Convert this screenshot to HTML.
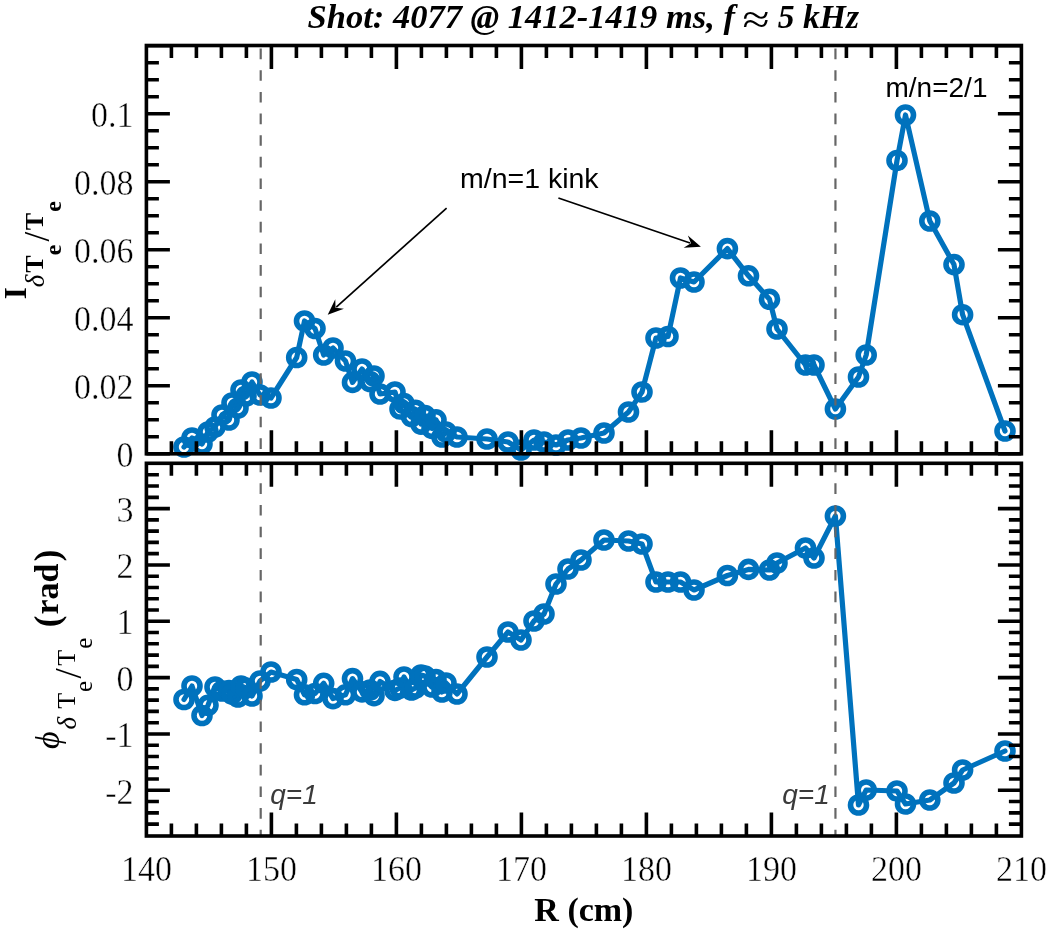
<!DOCTYPE html>
<html><head><meta charset="utf-8"><title>Shot 4077</title>
<style>html,body{margin:0;padding:0;background:#fff;}svg{display:block;}</style>
</head><body>
<svg width="1050" height="934" viewBox="0 0 1050 934">
<defs><filter id="soft" x="0" y="0" width="100%" height="100%" filterUnits="userSpaceOnUse"><feGaussianBlur stdDeviation="0.45"/></filter></defs>
<rect width="1050" height="934" fill="#fff"/>
<g filter="url(#soft)">
<path d="M184 447 L192 438 L202 444 L208 432 L215 427 L222 415 L229 420 L232 403 L238 408 L241 390 L246 396 L252 382 L260 395 L271 398 L296.7 357.5 L304.5 321 L315 328.5 L323.7 355 L333 348 L345.5 361 L352.5 382.4 L362 369 L370 381.5 L374 376 L380 394 L395 392 L400 409 L404 403.5 L411.5 416.6 L415.5 410.2 L421 424.1 L425 415.5 L432 428.4 L436 419.8 L442 437 L446 432 L457 437 L487 439 L508 442 L521 450 L534 440 L544 442 L556 445 L568 440 L581 438 L604 433 L628.5 412 L642 392 L656 338 L668 336.5 L680.5 278 L694 282 L727.4 248.6 L748.5 275.8 L769.5 299.3 L777 329 L805.5 365 L814 365 L835.4 409 L858.5 377 L866.2 355 L897 160.5 L905.5 115 L929.8 221 L954 264.6 L962.6 314.7 L1005 431" stroke="#0072BD" stroke-width="5.2" fill="none" stroke-linejoin="round" stroke-linecap="round"/>
<g fill="none" stroke="#0072BD" stroke-width="5.6"><circle cx="184" cy="447" r="8"/><circle cx="192" cy="438" r="8"/><circle cx="202" cy="444" r="8"/><circle cx="208" cy="432" r="8"/><circle cx="215" cy="427" r="8"/><circle cx="222" cy="415" r="8"/><circle cx="229" cy="420" r="8"/><circle cx="232" cy="403" r="8"/><circle cx="238" cy="408" r="8"/><circle cx="241" cy="390" r="8"/><circle cx="246" cy="396" r="8"/><circle cx="252" cy="382" r="8"/><circle cx="260" cy="395" r="8"/><circle cx="271" cy="398" r="8"/><circle cx="296.7" cy="357.5" r="8"/><circle cx="304.5" cy="321" r="8"/><circle cx="315" cy="328.5" r="8"/><circle cx="323.7" cy="355" r="8"/><circle cx="333" cy="348" r="8"/><circle cx="345.5" cy="361" r="8"/><circle cx="352.5" cy="382.4" r="8"/><circle cx="362" cy="369" r="8"/><circle cx="370" cy="381.5" r="8"/><circle cx="374" cy="376" r="8"/><circle cx="380" cy="394" r="8"/><circle cx="395" cy="392" r="8"/><circle cx="400" cy="409" r="8"/><circle cx="404" cy="403.5" r="8"/><circle cx="411.5" cy="416.6" r="8"/><circle cx="415.5" cy="410.2" r="8"/><circle cx="421" cy="424.1" r="8"/><circle cx="425" cy="415.5" r="8"/><circle cx="432" cy="428.4" r="8"/><circle cx="436" cy="419.8" r="8"/><circle cx="442" cy="437" r="8"/><circle cx="446" cy="432" r="8"/><circle cx="457" cy="437" r="8"/><circle cx="487" cy="439" r="8"/><circle cx="508" cy="442" r="8"/><circle cx="521" cy="450" r="8"/><circle cx="534" cy="440" r="8"/><circle cx="544" cy="442" r="8"/><circle cx="556" cy="445" r="8"/><circle cx="568" cy="440" r="8"/><circle cx="581" cy="438" r="8"/><circle cx="604" cy="433" r="8"/><circle cx="628.5" cy="412" r="8"/><circle cx="642" cy="392" r="8"/><circle cx="656" cy="338" r="8"/><circle cx="668" cy="336.5" r="8"/><circle cx="680.5" cy="278" r="8"/><circle cx="694" cy="282" r="8"/><circle cx="727.4" cy="248.6" r="8"/><circle cx="748.5" cy="275.8" r="8"/><circle cx="769.5" cy="299.3" r="8"/><circle cx="777" cy="329" r="8"/><circle cx="805.5" cy="365" r="8"/><circle cx="814" cy="365" r="8"/><circle cx="835.4" cy="409" r="8"/><circle cx="858.5" cy="377" r="8"/><circle cx="866.2" cy="355" r="8"/><circle cx="897" cy="160.5" r="8"/><circle cx="905.5" cy="115" r="8"/><circle cx="929.8" cy="221" r="8"/><circle cx="954" cy="264.6" r="8"/><circle cx="962.6" cy="314.7" r="8"/><circle cx="1005" cy="431" r="8"/></g>
<path d="M184 699.5 L192 686 L202 715.5 L208 705.3 L215 687 L222 691 L229 690.5 L232 694 L238 697 L241 686 L246 688 L252 696 L260 681 L271 672 L296.7 679.5 L304.5 694.8 L315 693.5 L323.7 683.3 L333 698.6 L345.5 694.8 L352.5 678.6 L362 691.9 L370 690 L374 695.7 L380 681.4 L395 690.4 L400 688 L404 677 L411.5 690 L415.5 688 L421 675 L425 676 L432 687 L436 679.5 L442 692 L446 683 L457 694 L487 657 L508 632 L521 640 L534 621 L544 614 L556 584 L568 569 L581 560 L604 540 L628.5 541 L642 544 L656 582 L668 582 L680.5 582 L694 590 L727.4 575.5 L748.5 569.4 L769.5 570 L777 563 L805.5 548 L814 558 L835.4 516 L858.5 805 L866.2 790 L897 791 L905.5 804 L929.8 800 L954 783 L962.6 770 L1005 751" stroke="#0072BD" stroke-width="5.2" fill="none" stroke-linejoin="round" stroke-linecap="round"/>
<g fill="none" stroke="#0072BD" stroke-width="5.6"><circle cx="184" cy="699.5" r="8"/><circle cx="192" cy="686" r="8"/><circle cx="202" cy="715.5" r="8"/><circle cx="208" cy="705.3" r="8"/><circle cx="215" cy="687" r="8"/><circle cx="222" cy="691" r="8"/><circle cx="229" cy="690.5" r="8"/><circle cx="232" cy="694" r="8"/><circle cx="238" cy="697" r="8"/><circle cx="241" cy="686" r="8"/><circle cx="246" cy="688" r="8"/><circle cx="252" cy="696" r="8"/><circle cx="260" cy="681" r="8"/><circle cx="271" cy="672" r="8"/><circle cx="296.7" cy="679.5" r="8"/><circle cx="304.5" cy="694.8" r="8"/><circle cx="315" cy="693.5" r="8"/><circle cx="323.7" cy="683.3" r="8"/><circle cx="333" cy="698.6" r="8"/><circle cx="345.5" cy="694.8" r="8"/><circle cx="352.5" cy="678.6" r="8"/><circle cx="362" cy="691.9" r="8"/><circle cx="370" cy="690" r="8"/><circle cx="374" cy="695.7" r="8"/><circle cx="380" cy="681.4" r="8"/><circle cx="395" cy="690.4" r="8"/><circle cx="400" cy="688" r="8"/><circle cx="404" cy="677" r="8"/><circle cx="411.5" cy="690" r="8"/><circle cx="415.5" cy="688" r="8"/><circle cx="421" cy="675" r="8"/><circle cx="425" cy="676" r="8"/><circle cx="432" cy="687" r="8"/><circle cx="436" cy="679.5" r="8"/><circle cx="442" cy="692" r="8"/><circle cx="446" cy="683" r="8"/><circle cx="457" cy="694" r="8"/><circle cx="487" cy="657" r="8"/><circle cx="508" cy="632" r="8"/><circle cx="521" cy="640" r="8"/><circle cx="534" cy="621" r="8"/><circle cx="544" cy="614" r="8"/><circle cx="556" cy="584" r="8"/><circle cx="568" cy="569" r="8"/><circle cx="581" cy="560" r="8"/><circle cx="604" cy="540" r="8"/><circle cx="628.5" cy="541" r="8"/><circle cx="642" cy="544" r="8"/><circle cx="656" cy="582" r="8"/><circle cx="668" cy="582" r="8"/><circle cx="680.5" cy="582" r="8"/><circle cx="694" cy="590" r="8"/><circle cx="727.4" cy="575.5" r="8"/><circle cx="748.5" cy="569.4" r="8"/><circle cx="769.5" cy="570" r="8"/><circle cx="777" cy="563" r="8"/><circle cx="805.5" cy="548" r="8"/><circle cx="814" cy="558" r="8"/><circle cx="835.4" cy="516" r="8"/><circle cx="858.5" cy="805" r="8"/><circle cx="866.2" cy="790" r="8"/><circle cx="897" cy="791" r="8"/><circle cx="905.5" cy="804" r="8"/><circle cx="929.8" cy="800" r="8"/><circle cx="954" cy="783" r="8"/><circle cx="962.6" cy="770" r="8"/><circle cx="1005" cy="751" r="8"/></g>
<line x1="260.7" y1="45.5" x2="260.7" y2="453.8" stroke="#666" stroke-width="2.2" stroke-dasharray="10.6 11.05" stroke-dashoffset="18.55"/>
<line x1="260.7" y1="463.3" x2="260.7" y2="836" stroke="#666" stroke-width="2.2" stroke-dasharray="10.6 11.05" stroke-dashoffset="1.6"/>
<line x1="835.45" y1="45.5" x2="835.45" y2="453.8" stroke="#666" stroke-width="2.2" stroke-dasharray="10.6 11.05" stroke-dashoffset="18.55"/>
<line x1="835.45" y1="463.3" x2="835.45" y2="836" stroke="#666" stroke-width="2.2" stroke-dasharray="10.6 11.05" stroke-dashoffset="1.6"/>
<path d="M171.4 453.8V441.3M171.4 45.5V58M196.4 453.8V441.3M196.4 45.5V58M221.4 453.8V441.3M221.4 45.5V58M246.4 453.8V441.3M246.4 45.5V58M271.4 453.8V430.3M271.4 45.5V69M296.4 453.8V441.3M296.4 45.5V58M321.4 453.8V441.3M321.4 45.5V58M346.4 453.8V441.3M346.4 45.5V58M371.4 453.8V441.3M371.4 45.5V58M396.4 453.8V430.3M396.4 45.5V69M421.4 453.8V441.3M421.4 45.5V58M446.4 453.8V441.3M446.4 45.5V58M471.4 453.8V441.3M471.4 45.5V58M496.4 453.8V441.3M496.4 45.5V58M521.4 453.8V430.3M521.4 45.5V69M546.4 453.8V441.3M546.4 45.5V58M571.4 453.8V441.3M571.4 45.5V58M596.4 453.8V441.3M596.4 45.5V58M621.4 453.8V441.3M621.4 45.5V58M646.4 453.8V430.3M646.4 45.5V69M671.4 453.8V441.3M671.4 45.5V58M696.4 453.8V441.3M696.4 45.5V58M721.4 453.8V441.3M721.4 45.5V58M746.4 453.8V441.3M746.4 45.5V58M771.4 453.8V430.3M771.4 45.5V69M796.4 453.8V441.3M796.4 45.5V58M821.4 453.8V441.3M821.4 45.5V58M846.4 453.8V441.3M846.4 45.5V58M871.4 453.8V441.3M871.4 45.5V58M896.4 453.8V430.3M896.4 45.5V69M921.4 453.8V441.3M921.4 45.5V58M946.4 453.8V441.3M946.4 45.5V58M971.4 453.8V441.3M971.4 45.5V58M996.4 453.8V441.3M996.4 45.5V58M146.4 453.8H169.9M1021.4 453.8H997.9M146.4 385.8H169.9M1021.4 385.8H997.9M146.4 317.8H169.9M1021.4 317.8H997.9M146.4 249.8H169.9M1021.4 249.8H997.9M146.4 181.8H169.9M1021.4 181.8H997.9M146.4 113.8H169.9M1021.4 113.8H997.9M146.4 45.8H169.9M1021.4 45.8H997.9M146.4 436.8H158.9M1021.4 436.8H1008.9M146.4 419.8H158.9M1021.4 419.8H1008.9M146.4 402.8H158.9M1021.4 402.8H1008.9M146.4 368.8H158.9M1021.4 368.8H1008.9M146.4 351.8H158.9M1021.4 351.8H1008.9M146.4 334.8H158.9M1021.4 334.8H1008.9M146.4 300.8H158.9M1021.4 300.8H1008.9M146.4 283.8H158.9M1021.4 283.8H1008.9M146.4 266.8H158.9M1021.4 266.8H1008.9M146.4 232.8H158.9M1021.4 232.8H1008.9M146.4 215.8H158.9M1021.4 215.8H1008.9M146.4 198.8H158.9M1021.4 198.8H1008.9M146.4 164.8H158.9M1021.4 164.8H1008.9M146.4 147.8H158.9M1021.4 147.8H1008.9M146.4 130.8H158.9M1021.4 130.8H1008.9M146.4 96.8H158.9M1021.4 96.8H1008.9M146.4 79.8H158.9M1021.4 79.8H1008.9M146.4 62.8H158.9M1021.4 62.8H1008.9" stroke="#000" stroke-width="3.6" fill="none"/>
<rect x="146.4" y="45.5" width="875" height="408.3" fill="none" stroke="#000" stroke-width="3.6"/>
<path d="M171.4 836V823.5M171.4 463.3V475.8M196.4 836V823.5M196.4 463.3V475.8M221.4 836V823.5M221.4 463.3V475.8M246.4 836V823.5M246.4 463.3V475.8M271.4 836V812.5M271.4 463.3V486.8M296.4 836V823.5M296.4 463.3V475.8M321.4 836V823.5M321.4 463.3V475.8M346.4 836V823.5M346.4 463.3V475.8M371.4 836V823.5M371.4 463.3V475.8M396.4 836V812.5M396.4 463.3V486.8M421.4 836V823.5M421.4 463.3V475.8M446.4 836V823.5M446.4 463.3V475.8M471.4 836V823.5M471.4 463.3V475.8M496.4 836V823.5M496.4 463.3V475.8M521.4 836V812.5M521.4 463.3V486.8M546.4 836V823.5M546.4 463.3V475.8M571.4 836V823.5M571.4 463.3V475.8M596.4 836V823.5M596.4 463.3V475.8M621.4 836V823.5M621.4 463.3V475.8M646.4 836V812.5M646.4 463.3V486.8M671.4 836V823.5M671.4 463.3V475.8M696.4 836V823.5M696.4 463.3V475.8M721.4 836V823.5M721.4 463.3V475.8M746.4 836V823.5M746.4 463.3V475.8M771.4 836V812.5M771.4 463.3V486.8M796.4 836V823.5M796.4 463.3V475.8M821.4 836V823.5M821.4 463.3V475.8M846.4 836V823.5M846.4 463.3V475.8M871.4 836V823.5M871.4 463.3V475.8M896.4 836V812.5M896.4 463.3V486.8M921.4 836V823.5M921.4 463.3V475.8M946.4 836V823.5M946.4 463.3V475.8M971.4 836V823.5M971.4 463.3V475.8M996.4 836V823.5M996.4 463.3V475.8M146.4 790.3H169.9M1021.4 790.3H997.9M146.4 733.96H169.9M1021.4 733.96H997.9M146.4 677.62H169.9M1021.4 677.62H997.9M146.4 621.28H169.9M1021.4 621.28H997.9M146.4 564.94H169.9M1021.4 564.94H997.9M146.4 508.6H169.9M1021.4 508.6H997.9M146.4 824.1H158.9M1021.4 824.1H1008.9M146.4 812.84H158.9M1021.4 812.84H1008.9M146.4 801.57H158.9M1021.4 801.57H1008.9M146.4 779.03H158.9M1021.4 779.03H1008.9M146.4 767.76H158.9M1021.4 767.76H1008.9M146.4 756.5H158.9M1021.4 756.5H1008.9M146.4 745.23H158.9M1021.4 745.23H1008.9M146.4 722.69H158.9M1021.4 722.69H1008.9M146.4 711.42H158.9M1021.4 711.42H1008.9M146.4 700.16H158.9M1021.4 700.16H1008.9M146.4 688.89H158.9M1021.4 688.89H1008.9M146.4 666.35H158.9M1021.4 666.35H1008.9M146.4 655.08H158.9M1021.4 655.08H1008.9M146.4 643.82H158.9M1021.4 643.82H1008.9M146.4 632.55H158.9M1021.4 632.55H1008.9M146.4 610.01H158.9M1021.4 610.01H1008.9M146.4 598.74H158.9M1021.4 598.74H1008.9M146.4 587.48H158.9M1021.4 587.48H1008.9M146.4 576.21H158.9M1021.4 576.21H1008.9M146.4 553.67H158.9M1021.4 553.67H1008.9M146.4 542.4H158.9M1021.4 542.4H1008.9M146.4 531.14H158.9M1021.4 531.14H1008.9M146.4 519.87H158.9M1021.4 519.87H1008.9M146.4 497.33H158.9M1021.4 497.33H1008.9M146.4 486.06H158.9M1021.4 486.06H1008.9M146.4 474.8H158.9M1021.4 474.8H1008.9" stroke="#000" stroke-width="3.6" fill="none"/>
<rect x="146.4" y="463.3" width="875" height="372.7" fill="none" stroke="#000" stroke-width="3.6"/>
<g font-family="'Liberation Serif', 'Times New Roman', serif" font-size="34" fill="#000" stroke="#fff" stroke-width="0.4" paint-order="normal">
<text transform="translate(133.5 467) scale(1 1.05)" text-anchor="end">0</text>
<text transform="translate(133.5 399) scale(1 1.05)" text-anchor="end">0.02</text>
<text transform="translate(133.5 331) scale(1 1.05)" text-anchor="end">0.04</text>
<text transform="translate(133.5 263) scale(1 1.05)" text-anchor="end">0.06</text>
<text transform="translate(133.5 195) scale(1 1.05)" text-anchor="end">0.08</text>
<text transform="translate(133.5 127) scale(1 1.05)" text-anchor="end">0.1</text>
<text transform="translate(133.5 803.5) scale(1 1.05)" text-anchor="end">-2</text>
<text transform="translate(133.5 747.16) scale(1 1.05)" text-anchor="end">-1</text>
<text transform="translate(133.5 690.82) scale(1 1.05)" text-anchor="end">0</text>
<text transform="translate(133.5 634.48) scale(1 1.05)" text-anchor="end">1</text>
<text transform="translate(133.5 578.14) scale(1 1.05)" text-anchor="end">2</text>
<text transform="translate(133.5 521.8) scale(1 1.05)" text-anchor="end">3</text>
<text transform="translate(146.4 881.2) scale(1 1.05)" text-anchor="middle">140</text>
<text transform="translate(271.4 881.2) scale(1 1.05)" text-anchor="middle">150</text>
<text transform="translate(396.4 881.2) scale(1 1.05)" text-anchor="middle">160</text>
<text transform="translate(521.4 881.2) scale(1 1.05)" text-anchor="middle">170</text>
<text transform="translate(646.4 881.2) scale(1 1.05)" text-anchor="middle">180</text>
<text transform="translate(771.4 881.2) scale(1 1.05)" text-anchor="middle">190</text>
<text transform="translate(896.4 881.2) scale(1 1.05)" text-anchor="middle">200</text>
<text transform="translate(1021.4 881.2) scale(1 1.05)" text-anchor="middle">210</text>
</g>
<text x="307.6" y="28.3" font-family="'Liberation Serif', 'Times New Roman', serif" font-size="34.5" font-weight="bold" font-style="italic">Shot: 4077 @ 1412-1419 ms, <tspan>f</tspan></text>
<text transform="translate(755.3 32.9) scale(1.2 1)" text-anchor="middle" font-family="'Liberation Serif', 'Times New Roman', serif" font-size="41" font-style="italic">≈</text>
<text x="777.8" y="28.3" font-family="'Liberation Serif', 'Times New Roman', serif" font-size="33.6" font-weight="bold" font-style="italic">5 kHz</text>
<text x="583.9" y="921" text-anchor="middle" font-family="'Liberation Serif', 'Times New Roman', serif" font-size="34" font-weight="bold">R (cm)</text>
<text transform="translate(25.9 293.2) rotate(-90)" text-anchor="middle" font-family="'Liberation Serif', 'Times New Roman', serif" font-size="31" font-weight="bold" font-style="normal">I</text>
<text transform="translate(44.4 280.9) rotate(-90)" text-anchor="middle" font-family="'Liberation Serif', 'Times New Roman', serif" font-size="27" font-weight="normal" font-style="italic">δ</text>
<text transform="translate(43.1 264.2) rotate(-90)" text-anchor="middle" font-family="'Liberation Serif', 'Times New Roman', serif" font-size="26" font-weight="bold" font-style="normal">T</text>
<text transform="translate(60.8 250) rotate(-90)" text-anchor="middle" font-family="'Liberation Serif', 'Times New Roman', serif" font-size="24" font-weight="bold" font-style="normal">e</text>
<text transform="translate(49.2 236.6) rotate(-90)" text-anchor="middle" font-family="'Liberation Serif', 'Times New Roman', serif" font-size="35" font-weight="normal" font-style="normal">/</text>
<text transform="translate(43.3 221.7) rotate(-90)" text-anchor="middle" font-family="'Liberation Serif', 'Times New Roman', serif" font-size="26" font-weight="bold" font-style="normal">T</text>
<text transform="translate(60.8 206.5) rotate(-90)" text-anchor="middle" font-family="'Liberation Serif', 'Times New Roman', serif" font-size="24" font-weight="bold" font-style="normal">e</text>
<text transform="translate(58.5 740.1) rotate(-90)" text-anchor="middle" font-family="'Liberation Serif', 'Times New Roman', serif" font-size="34" font-weight="normal" font-style="italic">ϕ</text>
<text transform="translate(75.6 723.1) rotate(-90)" text-anchor="middle" font-family="'Liberation Serif', 'Times New Roman', serif" font-size="27" font-weight="normal" font-style="italic">δ</text>
<text transform="translate(75.3 700.9) rotate(-90)" text-anchor="middle" font-family="'Liberation Serif', 'Times New Roman', serif" font-size="26" font-weight="normal" font-style="normal">T</text>
<text transform="translate(92.4 686.5) rotate(-90)" text-anchor="middle" font-family="'Liberation Serif', 'Times New Roman', serif" font-size="25" font-weight="normal" font-style="normal">e</text>
<text transform="translate(81 673.3) rotate(-90)" text-anchor="middle" font-family="'Liberation Serif', 'Times New Roman', serif" font-size="37" font-weight="normal" font-style="normal">/</text>
<text transform="translate(75.4 657.9) rotate(-90)" text-anchor="middle" font-family="'Liberation Serif', 'Times New Roman', serif" font-size="26" font-weight="normal" font-style="normal">T</text>
<text transform="translate(92.4 643.1) rotate(-90)" text-anchor="middle" font-family="'Liberation Serif', 'Times New Roman', serif" font-size="25" font-weight="normal" font-style="normal">e</text>
<text transform="translate(58.9 621.5) rotate(-90)" text-anchor="middle" font-family="'Liberation Serif', 'Times New Roman', serif" font-size="35" font-weight="bold" font-style="normal">(</text>
<text transform="translate(58.4 589) rotate(-90)" text-anchor="middle" font-family="'Liberation Serif', 'Times New Roman', serif" font-size="34" font-weight="bold" font-style="normal">rad</text>
<text transform="translate(58.9 555.5) rotate(-90)" text-anchor="middle" font-family="'Liberation Serif', 'Times New Roman', serif" font-size="35" font-weight="bold" font-style="normal">)</text>
<text x="460" y="187.8" font-family="'Liberation Sans', Arial, sans-serif" font-size="28.5">m/n=1 kink</text>
<text x="885.5" y="97.4" font-family="'Liberation Sans', Arial, sans-serif" font-size="28">m/n=2/1</text>
<text x="270.3" y="803.8" font-family="'Liberation Sans', Arial, sans-serif" font-size="28" font-style="italic" fill="#3a3a3a">q=1</text>
<text x="782.3" y="804.3" font-family="'Liberation Sans', Arial, sans-serif" font-size="28" font-style="italic" fill="#3a3a3a">q=1</text>
<line x1="446.6" y1="208.2" x2="336.27" y2="307.03" stroke="#000" stroke-width="1.7"/><path d="M327.7 314.7L335.28 299.18L335.52 307.69L343.95 308.87Z" fill="#000"/>
<line x1="558.4" y1="198" x2="690.02" y2="242.98" stroke="#000" stroke-width="1.7"/><path d="M700.9 246.7L683.66 247.68L690.96 243.3L687.86 235.38Z" fill="#000"/>
</g>
</svg>
</body></html>
